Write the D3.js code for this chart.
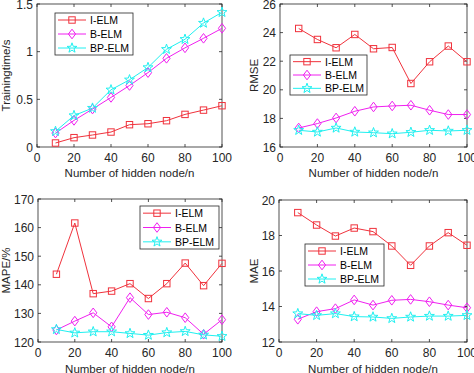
<!DOCTYPE html>
<html lang="en">
<head>
<meta charset="utf-8">
<title>ELM comparison</title>
<style>
  body, html {
    margin: 0;
    padding: 0;
    background: #fff;
    font-family: "Liberation Sans", Arial, Helvetica, sans-serif;
  }
  .frame { fill: none; stroke: #262626; stroke-width: 0.8px; }
  .ticklab { font-size: 12px; fill: #262626; }
  .axlab { font-size: 11.5px; fill: #262626; }
  .legtext { font-size: 10.5px; fill: #000; }
</style>
</head>
<body>
<svg></svg>
<script src="https://d3js.org/d3.v7.min.js"></script>
<script>

// data
let nodes = [10, 20, 30, 40, 50, 60, 70, 80, 90, 100];
let seriesNames = ["I-ELM", "B-ELM", "BP-ELM"];
let xTicks = [0, 20, 40, 60, 80, 100];

let timeI  = [0.042, 0.098, 0.126, 0.157, 0.234, 0.244, 0.276, 0.342, 0.387, 0.433];
let timeB  = [0.146, 0.279, 0.398, 0.52, 0.645, 0.78, 0.93, 1.04, 1.14, 1.245];
let timeBP = [0.164, 0.33, 0.408, 0.6, 0.705, 0.834, 1.025, 1.13, 1.3, 1.413];
let timeTicks = [0, 0.5, 1, 1.5];

let rmseI  = [24.29, 23.52, 22.94, 23.87, 22.87, 22.96, 20.44, 21.96, 23.06, 21.96];
let rmseB  = [17.33, 17.64, 18.03, 18.5, 18.8, 18.87, 18.92, 18.57, 18.27, 18.27];
let rmseBP = [17.17, 17.05, 17.33, 17.05, 17.0, 16.93, 17.03, 17.17, 17.12, 17.17];
let rmseTicks = [16, 18, 20, 22, 24, 26];

let mapeI  = [143.7, 161.6, 136.9, 137.8, 140.4, 135.2, 140.4, 147.6, 139.7, 147.5];
let mapeB  = [124.2, 127.3, 130.2, 125.3, 135.5, 129.6, 130.4, 128.5, 122.7, 127.8];
let mapeBP = [124.4, 123.2, 123.6, 123.6, 123.0, 122.4, 123.3, 123.7, 122.5, 122.0];
let mapeTicks = [120, 130, 140, 150, 160, 170];

let maeI  = [19.29, 18.59, 17.97, 18.42, 18.22, 17.41, 16.32, 17.41, 18.16, 17.45];
let maeB  = [13.28, 13.71, 13.88, 14.37, 14.08, 14.35, 14.4, 14.27, 14.08, 13.93];
let maeBP = [13.6, 13.5, 13.6, 13.43, 13.41, 13.33, 13.41, 13.46, 13.46, 13.5];
let maeTicks = [12, 14, 16, 18, 20];

let w = 474, h = 373;
let svg = d3.select("svg").attr("width", w).attr("height", h);

let colors = ["#f0323c", "#f020f0", "#20f0f0"];
let markers = ["square", "diamond", "star"];

let panels = [
  { left: 37, top: 4, right: 222, bottom: 147, ylab: "Trainingtime/s", ylabX: 10, series: [timeI, timeB, timeBP], ticks: timeTicks, leg: [55, 13, 133, 55], xlabY: 177 },
  { left: 280, top: 4, right: 467, bottom: 147, ylab: "RMSE", ylabX: 258, series: [rmseI, rmseB, rmseBP], ticks: rmseTicks, leg: [290, 55, 367, 95], xlabY: 177 },
  { left: 38, top: 199, right: 222, bottom: 342, ylab: "MAPE/%", ylabX: 10, series: [mapeI, mapeB, mapeBP], ticks: mapeTicks, leg: [140, 206, 219, 249], xlabY: 373 },
  { left: 279, top: 200, right: 467, bottom: 342, ylab: "MAE", ylabX: 258, series: [maeI, maeB, maeBP], ticks: maeTicks, leg: [305, 244, 384, 286], xlabY: 373 }
];

function drawMarker(g, type, x, y, color) {
  if (type == "square") {
    g.append("rect").attr("x", x - 3.2).attr("y", y - 3.2).attr("width", 6.4).attr("height", 6.4)
      .attr("fill", "none").attr("stroke", color).attr("stroke-width", 1);
  } else if (type == "diamond") {
    g.append("path").attr("d", `M${x},${y - 4.8}L${x + 3.6},${y}L${x},${y + 4.8}L${x - 3.6},${y}Z`)
      .attr("fill", "none").attr("stroke", color).attr("stroke-width", 1);
  } else {
    let pts = [];
    for (let i = 0; i < 10; i++) {
      let r = i % 2 == 0 ? 5.2 : 2.1;
      let a = -Math.PI / 2 + i * Math.PI / 5;
      pts.push([x + r * Math.cos(a), y + r * Math.sin(a)]);
    }
    g.append("path").attr("d", "M" + pts.join("L") + "Z")
      .attr("fill", "none").attr("stroke", color).attr("stroke-width", 1);
  }
}

panels.forEach(p => {
  let g = svg.append("g");
  let x = d3.scaleLinear().domain([0, 100]).range([p.left, p.right]);
  let y = d3.scaleLinear().domain(d3.extent(p.ticks)).range([p.bottom, p.top]);

  // ticks point inward and repeat on top/right, like a matlab box
  let tl = 3;
  xTicks.forEach(t => {
    g.append("line").attr("x1", x(t)).attr("x2", x(t)).attr("y1", p.bottom).attr("y2", p.bottom - tl).attr("stroke", "#262626").attr("stroke-width", 0.8);
    g.append("line").attr("x1", x(t)).attr("x2", x(t)).attr("y1", p.top).attr("y2", p.top + tl).attr("stroke", "#262626").attr("stroke-width", 0.8);
    g.append("text").attr("class", "ticklab").attr("x", x(t)).attr("y", p.bottom + 15).attr("text-anchor", "middle").text(t);
  });
  p.ticks.forEach(t => {
    g.append("line").attr("x1", p.left).attr("x2", p.left + tl).attr("y1", y(t)).attr("y2", y(t)).attr("stroke", "#262626").attr("stroke-width", 0.8);
    g.append("line").attr("x1", p.right).attr("x2", p.right - tl).attr("y1", y(t)).attr("y2", y(t)).attr("stroke", "#262626").attr("stroke-width", 0.8);
    g.append("text").attr("class", "ticklab").attr("x", p.left - 4).attr("y", y(t) + 4.5).attr("text-anchor", "end").text(t);
  });

  g.append("rect").attr("class", "frame")
    .attr("x", p.left).attr("y", p.top).attr("width", p.right - p.left).attr("height", p.bottom - p.top);

  // axis titles
  g.append("text").attr("class", "axlab").attr("x", (p.left + p.right) / 2).attr("y", p.xlabY)
    .attr("text-anchor", "middle").text("Number of hidden node/n");
  g.append("text").attr("class", "axlab")
    .attr("transform", `translate(${p.ylabX},${(p.top + p.bottom) / 2}) rotate(-90)`)
    .attr("text-anchor", "middle").text(p.ylab);

  // lines + markers
  let line = d3.line().x((d, i) => x(nodes[i])).y(d => y(d));
  p.series.forEach((s, k) => {
    g.append("path").attr("d", line(s)).attr("fill", "none").attr("stroke", colors[k]).attr("stroke-width", 1);
    s.forEach((v, i) => drawMarker(g, markers[k], x(nodes[i]), y(v), colors[k]));
  });

  // legend box
  let [lx0, ly0, lx1, ly1] = p.leg;
  g.append("rect").attr("x", lx0).attr("y", ly0).attr("width", lx1 - lx0).attr("height", ly1 - ly0)
    .attr("fill", "#fff").attr("stroke", "#262626").attr("stroke-width", 0.8);
  let rowH = (ly1 - ly0) / 3;
  seriesNames.forEach((n, k) => {
    let cy = ly0 + rowH * (k + 0.5);
    g.append("line").attr("x1", lx0 + 3).attr("x2", lx0 + 31).attr("y1", cy).attr("y2", cy)
      .attr("stroke", colors[k]).attr("stroke-width", 1);
    drawMarker(g, markers[k], lx0 + 17, cy, colors[k]);
    g.append("text").attr("class", "legtext").attr("x", lx0 + 35).attr("y", cy + 4).text(n);
  });
});

</script>
</body>
</html>
